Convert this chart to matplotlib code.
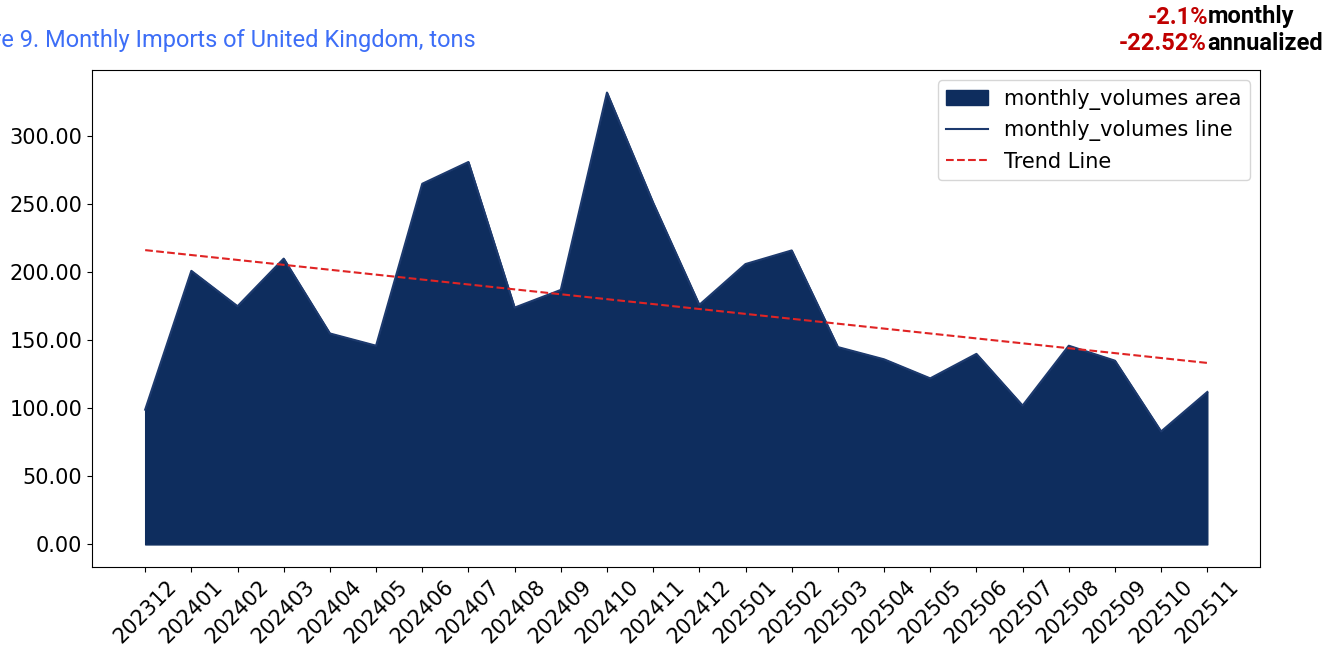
import numpy as np
import matplotlib
matplotlib.use("Agg")
import matplotlib.pyplot as plt
from matplotlib.ticker import FormatStrFormatter

# meses e volumes (toneladas)
months = ["202312", "202401", "202402", "202403", "202404", "202405", "202406",
          "202407", "202408", "202409", "202410", "202411", "202412", "202501",
          "202502", "202503", "202504", "202505", "202506", "202507", "202508",
          "202509", "202510", "202511"]
monthly_volumes = [99, 201, 175, 210, 155, 146, 265, 281, 174, 187, 332, 251,
                   176, 206, 216, 145, 136, 122, 140, 102, 146, 135, 83, 112]

monthly_pct = "-2.1%"
annual_pct = "-22.52%"
title = "Figure 9. Monthly Imports of United Kingdom, tons"

navy = "#0e2d5e"

fig = plt.figure(figsize=(13.42, 6.48), dpi=100)
ax = fig.add_axes([0.0686, 0.125, 0.8706, 0.767])

x = np.arange(len(months))
y = np.array(monthly_volumes, dtype=float)

ax.fill_between(x, y, color=navy, label="monthly_volumes area")
ax.plot(x, y, color="#1d3a6e", linewidth=1.5, label="monthly_volumes line")

# linha de tendencia
coef = np.polyfit(x, y, 1)
ax.plot(x, np.polyval(coef, x), color="#e02424", linestyle="--", linewidth=1.5, label="Trend Line")

ax.set_xticks(x)
ax.set_xticklabels(months, rotation=45, fontsize=15)
ax.yaxis.set_major_formatter(FormatStrFormatter("%.2f"))
ax.tick_params(axis="y", labelsize=15)
ax.legend(loc="upper right", fontsize=15)

# titulo (cortado a esquerda como no original)
fig.text(476 / 1342, 1 - 41 / 648, title, ha="right", va="center",
         fontsize=17, color="#3d6ef7", family="Roboto")

# anotacoes de crescimento
fig.canvas.draw()
renderer = fig.canvas.get_renderer()
cx = 1221 / 1342
for yy, pct, word in [(1 - 17 / 648, monthly_pct, "monthly"), (1 - 44 / 648, annual_pct, "annualized")]:
    t1 = fig.text(0, yy, pct, color="#c00000", fontsize=17, fontweight="bold",
                  family="Roboto", va="center", ha="left")
    t2 = fig.text(0, yy, word, color="black", fontsize=17, fontweight="bold",
                  family="Roboto", va="center", ha="left")
    w1 = t1.get_window_extent(renderer).width / fig.bbox.width
    w2 = t2.get_window_extent(renderer).width / fig.bbox.width
    start = cx - (w1 + w2) / 2
    t1.set_x(start)
    t2.set_x(start + w1)

fig.savefig("out.png", dpi=100)
